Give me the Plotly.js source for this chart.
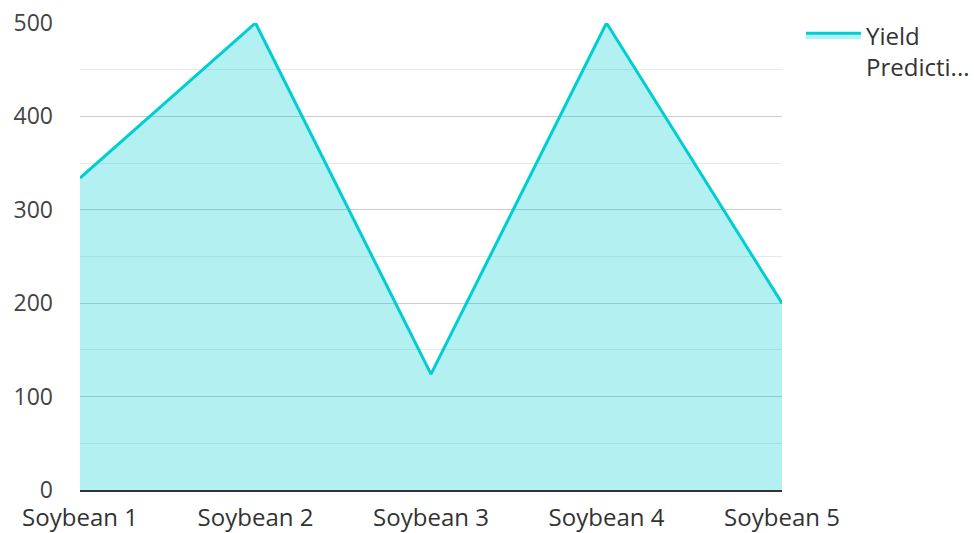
<!DOCTYPE html>
<html>
<head>
<meta charset="utf-8">
<script src="https://cdn.plot.ly/plotly-3.0.1.min.js"></script>
<style>html,body{margin:0;padding:0;background:#fff;}#chart{width:974px;height:533px;}</style>
</head>
<body>
<div id="chart"></div>
<script>
const categories = ["Soybean 1", "Soybean 2", "Soybean 3", "Soybean 4", "Soybean 5"];
const yieldValues = [334, 500, 124, 500, 200];
const seriesName = "Yield<br>Predicti...";

const trace = {
  type: "scatter",
  mode: "lines",
  x: categories,
  y: yieldValues,
  name: seriesName,
  fill: "tozeroy",
  fillcolor: "rgba(0,206,209,0.3)",
  line: {color: "#00CED1", width: 3}
};

const layout = {
  width: 974,
  height: 533,
  margin: {l: 80, r: 192, t: 23, b: 43},
  paper_bgcolor: "#fff",
  plot_bgcolor: "#fff",
  font: {family: "Open Sans, Noto Sans, sans-serif", size: 24, color: "#444"},
  showlegend: true,
  legend: {
    xref: "container", yref: "container",
    x: 0.8224, y: 0.9754, xanchor: "left", yanchor: "top",
    itemwidth: 55, valign: "top",
    font: {size: 24, color: "#333"}
  },
  xaxis: {
    type: "category",
    range: [0, 4],
    showgrid: false,
    zeroline: false,
    showline: true,
    linecolor: "#333",
    linewidth: 2,
    ticks: "",
    ticklabelstandoff: 5,
    tickfont: {size: 24, color: "#333"}
  },
  yaxis: {
    range: [0, 500],
    dtick: 100,
    showgrid: true,
    gridcolor: "#cccccc",
    gridwidth: 1,
    zeroline: false,
    showline: false,
    ticks: "",
    ticklabelstandoff: 26,
    tickfont: {size: 23, color: "#444"},
    minor: {dtick: 50, showgrid: true, gridcolor: "#e8e8e8", gridwidth: 1}
  }
};

Plotly.newPlot("chart", [trace], layout, {displayModeBar: false, staticPlot: true});
</script>
</body>
</html>
